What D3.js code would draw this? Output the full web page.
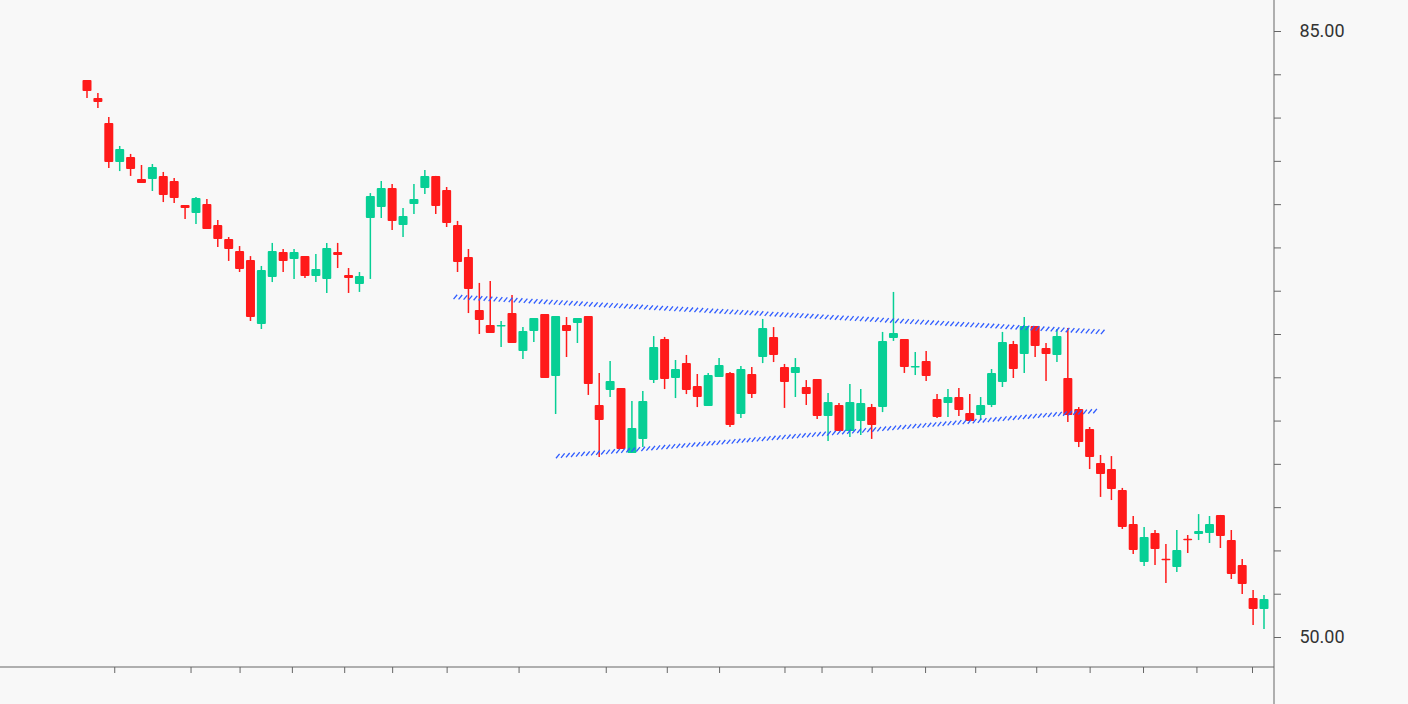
<!DOCTYPE html>
<html><head><meta charset="utf-8">
<script src="https://cdn.jsdelivr.net/npm/d3@7"></script>
<style>html,body{margin:0;padding:0;background:#f8f8f8;}svg{display:block;}</style>
</head><body><svg id="c" width="1408" height="704"></svg>
<script>
const opens=[82.17,81.13,79.69,77.43,77.72,76.45,76.45,76.63,76.34,74.95,74.49,75.01,73.80,72.99,72.29,71.77,68.08,70.79,72.24,71.83,72.00,70.85,70.68,72.24,70.91,70.39,74.20,74.83,75.93,73.80,75.01,75.93,76.63,75.82,73.80,71.95,68.89,68.02,67.98,68.71,66.52,67.67,68.65,65.07,68.02,68.14,68.54,63.40,64.27,64.38,60.63,61.44,64.84,67.21,64.96,65.82,64.50,63.34,65.02,65.25,62.88,65.19,66.17,67.33,65.59,65.25,64.44,64.90,62.76,63.40,61.90,62.47,63.28,63.28,67.27,67.21,65.60,65.94,63.75,63.51,63.86,62.94,62.82,63.40,64.73,66.92,66.34,67.96,66.69,66.29,64.96,63.17,62.01,60.05,59.70,58.49,56.53,54.33,56.01,54.52,54.04,55.68,55.95,56.01,57.05,55.60,54.16,52.25,51.62];
const highs=[82.17,81.42,80.03,78.36,77.90,77.26,77.32,76.86,76.51,74.95,75.41,75.30,74.08,73.10,72.58,72.00,71.43,72.76,72.41,72.41,72.00,72.12,72.76,72.76,71.31,71.08,75.64,76.34,76.16,74.78,76.16,76.97,76.63,75.99,74.03,72.41,70.45,70.56,68.25,69.75,67.90,68.42,68.65,68.54,68.48,68.42,68.54,65.25,65.94,64.38,63.63,64.21,67.38,67.33,66.00,66.29,65.19,65.25,66.11,65.30,65.65,65.59,68.37,67.90,65.77,66.11,64.84,64.90,64.09,63.51,64.61,64.32,63.46,67.62,69.93,67.21,66.46,66.52,64.03,64.32,64.38,64.03,63.86,65.48,67.62,67.10,68.48,67.96,66.98,67.79,67.85,63.28,62.13,60.51,60.45,58.61,56.99,56.35,56.18,55.37,56.18,55.89,57.10,56.99,57.05,56.18,54.50,52.71,52.43];
const lows=[81.13,80.55,77.09,76.91,76.63,76.22,75.76,75.12,75.07,74.14,73.85,73.56,72.52,71.72,71.08,68.25,67.79,70.50,71.08,70.68,70.73,70.50,69.87,71.31,69.87,69.93,70.68,74.20,73.51,73.10,74.43,75.59,74.43,73.68,71.08,68.71,67.50,67.56,66.75,66.98,66.06,67.04,64.96,62.88,66.17,66.98,63.98,60.40,63.86,60.86,60.63,60.97,64.67,64.32,63.80,64.03,63.28,63.34,65.02,62.13,62.65,63.80,65.82,65.88,63.23,63.86,63.40,62.59,61.32,61.90,61.55,61.67,61.44,62.99,67.10,65.25,65.13,64.79,62.65,62.71,62.76,62.47,62.53,63.28,64.44,64.96,65.25,66.17,64.79,65.88,62.42,60.97,59.70,58.09,57.91,56.24,54.79,54.10,54.16,53.12,53.75,54.85,55.60,55.43,55.14,53.35,52.48,50.69,50.46];
const closes=[81.53,80.90,77.43,78.18,77.03,76.22,77.15,75.53,75.35,74.78,75.35,73.56,72.99,72.41,71.25,68.48,71.20,72.29,71.72,72.24,70.85,71.25,72.47,72.06,70.73,70.85,75.47,75.93,74.03,74.32,75.30,76.63,74.89,73.91,71.66,70.10,68.31,67.56,68.02,66.98,67.67,68.42,64.96,68.54,67.67,68.42,64.61,62.53,64.79,60.86,62.07,63.63,66.75,64.90,65.48,64.27,63.86,65.13,65.71,62.24,65.48,64.03,67.85,66.29,64.73,65.59,64.03,62.76,63.57,61.90,63.57,63.51,62.24,67.10,67.56,65.59,65.65,65.07,62.71,63.86,63.11,62.47,63.40,65.25,67.04,65.48,67.96,66.81,66.34,67.38,62.82,61.26,60.40,59.41,58.55,56.35,55.02,55.78,55.08,54.50,55.02,55.66,56.12,56.53,55.83,53.64,53.06,51.62,52.19];
const xTickIdx=[2.5,9.5,14,18.8,23.6,28,33,39.6,47.6,53.2,58,64,67.4,72,76.9,81.5,87.1,92,96.9,101.8,106.9];
const yTickVals=[85,82.5,80,77.5,75,72.5,70,67.5,65,62.5,60,57.5,55,52.5,50];
const yLabelVals=[85,50];
const upperChannel=[[33.8,69.64],[93.2,67.62]];
const lowerChannel=[[43.2,60.45],[92.5,63.05]];

const svg=d3.select("#c");
const W=1408,H=704,axisX=1274,axisY=667;
const x=d3.scaleLinear().domain([0,opens.length-1]).range([87,1264]);
const y=d3.scaleLinear().domain([50,85]).range([637,31]);
const UP="#07cf95",DN="#ff1a1a",BW=9;
svg.append("rect").attr("width",W).attr("height",H).attr("fill","#f8f8f8");

const data=opens.map((o,i)=>({i,o,h:highs[i],l:lows[i],c:closes[i]}));
const g=svg.append("g");
data.forEach(d=>{
  const col=d.c>=d.o?UP:DN;
  g.append("line").attr("x1",x(d.i)).attr("x2",x(d.i)).attr("y1",y(d.h)).attr("y2",y(d.l)).attr("stroke",col).attr("stroke-width",1.5);
  const top=y(Math.max(d.o,d.c)),bot=y(Math.min(d.o,d.c));
  const hgt=Math.max(bot-top,1.5);
  g.append("rect").attr("x",x(d.i)-BW/2).attr("y",top).attr("width",BW).attr("height",hgt).attr("rx",1).attr("fill",col);
});

function hatch(pts){
  const x1=x(pts[0][0]),y1=y(pts[0][1]),x2=x(pts[1][0]),y2=y(pts[1][1]);
  const len=Math.hypot(x2-x1,y2-y1),n=Math.floor(len/5);
  const hg=svg.append("g").attr("stroke","#2f5cff").attr("stroke-width",1.3);
  for(let k=0;k<=n;k++){
    const t=k/n,px=x1+(x2-x1)*t,py=y1+(y2-y1)*t;
    hg.append("line").attr("x1",px-1.8).attr("y1",py+2.2).attr("x2",px+1.8).attr("y2",py-2.2);
  }
}
hatch(upperChannel);hatch(lowerChannel);

// axes
svg.append("line").attr("x1",0).attr("x2",axisX).attr("y1",axisY).attr("y2",axisY).attr("stroke","#666");
svg.append("line").attr("x1",axisX).attr("x2",axisX).attr("y1",0).attr("y2",H).attr("stroke","#666");
const xa=d3.axisBottom(x).tickValues(xTickIdx).tickSize(6).tickFormat("");
svg.append("g").attr("transform",`translate(0,${axisY})`).call(xa).call(s=>{s.select(".domain").remove();s.selectAll("line").attr("stroke","#666");});
const ya=d3.axisRight(y).tickValues(yTickVals).tickSize(7).tickFormat("");
svg.append("g").attr("transform",`translate(${axisX},0)`).call(ya).call(s=>{s.select(".domain").remove();s.selectAll("line").attr("stroke","#666");});
svg.selectAll(".ylab").data(yLabelVals).enter().append("text").attr("x",1322).attr("y",d=>y(d)).attr("dy","0.36em")
  .attr("text-anchor","middle").attr("font-family","Roboto, sans-serif").attr("font-size",18).attr("fill","#333").text(d=>d.toFixed(2));
</script></body></html>
